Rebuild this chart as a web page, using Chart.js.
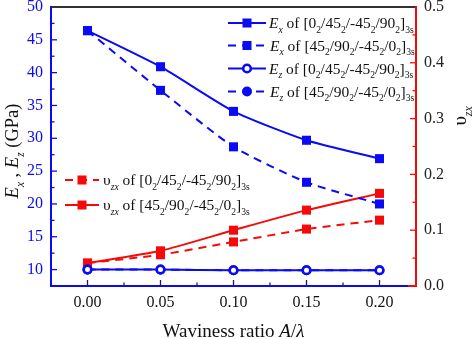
<!DOCTYPE html>
<html><head><meta charset="utf-8">
<script src="https://cdn.jsdelivr.net/npm/chart.js@4.4.1/dist/chart.umd.min.js"></script>
<style>html,body{margin:0;padding:0;background:#fff}#wrap{width:474px;height:339px;position:relative}</style>
</head><body><div id="wrap"><canvas id="c" width="474" height="339"></canvas></div>
<script>
// ---------- data ----------
const waviness = [0, 0.05, 0.10, 0.15, 0.20];
const exA = [46.4, 40.9, 34.1, 29.7, 26.9];   // Ex of [0/45/-45/90]
const exB = [46.4, 37.3, 28.7, 23.3, 20.0];   // Ex of [45/90/-45/0]
const ezA = [10.0, 10.0, 9.9, 9.9, 9.9];      // Ez of [0/45/-45/90]
const ezB = [10.0, 10.0, 9.9, 9.9, 9.9];      // Ez of [45/90/-45/0]
const nuA = [0.041, 0.056, 0.079, 0.102, 0.118]; // vzx of [0/45/-45/90]
const nuB = [0.041, 0.063, 0.100, 0.136, 0.166]; // vzx of [45/90/-45/0]

const xTickValues = [0, 0.05, 0.10, 0.15, 0.20];
const xTickLabels = ['0.00', '0.05', '0.10', '0.15', '0.20'];
const xMinorValues = [0.025, 0.075, 0.125, 0.175];
const leftTickValues = [10, 15, 20, 25, 30, 35, 40, 45, 50];
const leftTickLabels = ['10', '15', '20', '25', '30', '35', '40', '45', '50'];
const leftMinorValues = [12.5, 17.5, 22.5, 27.5, 32.5, 37.5, 42.5, 47.5];
const rightTickValues = [0, 0.1, 0.2, 0.3, 0.4, 0.5];
const rightTickLabels = ['0.0', '0.1', '0.2', '0.3', '0.4', '0.5'];
const rightMinorValues = [0.05, 0.15, 0.25, 0.35, 0.45];

const labelExA = '<i>E</i><sub><i>x</i></sub> of [0<sub>2</sub>/45<sub>2</sub>/-45<sub>2</sub>/90<sub>2</sub>]<sub>3s</sub>';
const labelExB = '<i>E</i><sub><i>x</i></sub> of [45<sub>2</sub>/90<sub>2</sub>/-45<sub>2</sub>/0<sub>2</sub>]<sub>3s</sub>';
const labelEzA = '<i>E</i><sub><i>z</i></sub> of [0<sub>2</sub>/45<sub>2</sub>/-45<sub>2</sub>/90<sub>2</sub>]<sub>3s</sub>';
const labelEzB = '<i>E</i><sub><i>z</i></sub> of [45<sub>2</sub>/90<sub>2</sub>/-45<sub>2</sub>/0<sub>2</sub>]<sub>3s</sub>';
const labelNuA = 'υ<sub><i>zx</i></sub> of [0<sub>2</sub>/45<sub>2</sub>/-45<sub>2</sub>/90<sub>2</sub>]<sub>3s</sub>';
const labelNuB = 'υ<sub><i>zx</i></sub> of [45<sub>2</sub>/90<sub>2</sub>/-45<sub>2</sub>/0<sub>2</sub>]<sub>3s</sub>';
const xTitle = 'Waviness ratio <i>A</i>/<i>λ</i>';
const leftTitle = '<i>E</i><sub><i>x</i></sub> , <i>E</i><sub><i>z</i></sub> (GPa)';
const rightTitle = 'υ<sub><i>zx</i></sub>';

// ---------- styling ----------
const FONT = "'Liberation Serif', 'Times New Roman', serif";
const BLUE = '#0a0af5';
const RED = '#f50a0a';
const DASH = [8, 6];

function parseRich(s) {
  const re = /<(\/?)(i|sub)>|[^<]+/g;
  let m, it = false, sub = false; const out = [];
  while ((m = re.exec(s))) {
    if (m[2]) { const on = m[1] !== '/'; if (m[2] === 'i') it = on; else sub = on; }
    else out.push({ t: m[0], it, sub });
  }
  return out;
}
function drawRich(ctx, s, x, y, size, color, align) {
  const segs = parseRich(s);
  const fontOf = g => (g.it ? 'italic ' : '') + (g.sub ? size * 0.62 : size) + 'px ' + FONT;
  let w = 0;
  segs.forEach(g => { ctx.font = fontOf(g); g.w = ctx.measureText(g.t).width; w += g.w; });
  let cx = align === 'center' ? x - w / 2 : (align === 'right' ? x - w : x);
  ctx.fillStyle = color; ctx.textBaseline = 'alphabetic'; ctx.textAlign = 'left';
  segs.forEach(g => { ctx.font = fontOf(g); ctx.fillText(g.t, cx, y + (g.sub ? size * 0.3 : 0)); cx += g.w; });
  return w;
}

function marker(ctx, type, x, y, color) {
  ctx.save();
  if (type === 'rect') { ctx.fillStyle = color; ctx.fillRect(x - 4.5, y - 4.5, 9, 9); }
  else if (type === 'ring') {
    ctx.beginPath(); ctx.arc(x, y, 3.8, 0, Math.PI * 2);
    ctx.fillStyle = '#fff'; ctx.fill(); ctx.lineWidth = 2.6; ctx.strokeStyle = color; ctx.stroke();
  } else { ctx.beginPath(); ctx.arc(x, y, 5, 0, Math.PI * 2); ctx.fillStyle = color; ctx.fill(); }
  ctx.restore();
}

const legendItems = [
  { label: labelExA, color: BLUE, dash: [], mk: 'rect', x0: 228, x1: 266, tx: 269, y: 23 },
  { label: labelExB, color: BLUE, dash: DASH, mk: 'rect', x0: 228, x1: 266, tx: 270, y: 45.5 },
  { label: labelEzA, color: BLUE, dash: [], mk: 'ring', x0: 228, x1: 266, tx: 269, y: 68.5 },
  { label: labelEzB, color: BLUE, dash: DASH, mk: 'dot', x0: 228, x1: 266, tx: 270, y: 91.5 },
  { label: labelNuA, color: RED, dash: DASH, mk: 'rect', x0: 65, x1: 99, tx: 103, y: 180 },
  { label: labelNuB, color: RED, dash: [], mk: 'rect', x0: 65, x1: 99, tx: 103, y: 205 }
];

function hline(ctx, x0, y0, x1, y1, c, w) {
  ctx.beginPath(); ctx.moveTo(x0, y0); ctx.lineTo(x1, y1); ctx.strokeStyle = c; ctx.lineWidth = w; ctx.stroke();
}

const framePlugin = {
  id: 'frame',
  beforeDatasetsDraw(chart) {
    const { ctx, chartArea: a, scales } = chart;
    ctx.save();
    ctx.setLineDash([]);
    // ticks
    xTickValues.forEach(v => { const p = scales.x.getPixelForValue(v); hline(ctx, p, a.bottom, p, a.bottom - 6, '#222', 1.3); });
    xMinorValues.forEach(v => { const p = scales.x.getPixelForValue(v); hline(ctx, p, a.bottom, p, a.bottom - 3.5, '#222', 1.3); });
    leftTickValues.forEach(v => { const p = scales.y.getPixelForValue(v); hline(ctx, a.left, p, a.left + 6, p, BLUE, 1.3); });
    leftMinorValues.forEach(v => { const p = scales.y.getPixelForValue(v); hline(ctx, a.left, p, a.left + 3.5, p, BLUE, 1.3); });
    rightTickValues.forEach(v => { const p = scales.y1.getPixelForValue(v); hline(ctx, a.right, p, a.right - 6, p, RED, 1.3); });
    rightMinorValues.forEach(v => { const p = scales.y1.getPixelForValue(v); hline(ctx, a.right, p, a.right - 3.5, p, RED, 1.3); });
    // frame
    hline(ctx, a.left, a.top, a.right, a.top, '#333', 2);
    hline(ctx, a.left - 1, a.bottom, a.right - 8, a.bottom, BLUE, 2);
    hline(ctx, a.right - 8, a.bottom, a.right + 1, a.bottom, RED, 2);
    hline(ctx, a.left, a.top - 1, a.left, a.bottom + 1, BLUE, 2);
    hline(ctx, a.right, a.top - 1, a.right, a.bottom + 1, RED, 2);
    ctx.restore();
  },
  afterDraw(chart) {
    const { ctx, chartArea: a } = chart;
    ctx.save();
    // legends
    legendItems.forEach(it => {
      ctx.setLineDash(it.dash);
      hline(ctx, it.x0, it.y, it.x1, it.y, it.color, 2);
      ctx.setLineDash([]);
      marker(ctx, it.mk, (it.x0 + it.x1) / 2, it.y, it.color);
      drawRich(ctx, it.label, it.tx, it.y + 5, 15.5, '#111', 'left');
    });
    // axis titles
    drawRich(ctx, xTitle, (a.left + a.right) / 2, 337, 19, '#111', 'center');
    ctx.save(); ctx.translate(18, 151); ctx.rotate(-Math.PI / 2);
    drawRich(ctx, leftTitle, 0, 0, 18.5, '#111', 'center'); ctx.restore();
    ctx.save(); ctx.translate(466, 116); ctx.rotate(-Math.PI / 2);
    drawRich(ctx, rightTitle, 0, 0, 19, '#111', 'center'); ctx.restore();
    ctx.restore();
  }
};

function fixTicks(vals) { return s => { s.ticks = vals.map(v => ({ value: v })); }; }
function fitSize(prop, val) { return s => { s[prop] = val; s.paddingTop = 0; s.paddingBottom = 0; s.paddingLeft = 0; s.paddingRight = 0; }; }

const pts = (ys) => waviness.map((x, i) => ({ x, y: ys[i] }));

new Chart(document.getElementById('c'), {
  type: 'line',
  data: {
    datasets: [
      { data: pts(ezA), yAxisID: 'y', borderColor: BLUE, backgroundColor: '#fff', borderWidth: 2, pointStyle: 'circle', pointRadius: 3.8, pointBorderWidth: 2.6, pointBorderColor: BLUE, pointBackgroundColor: '#fff', tension: 0.2 },
      { data: pts(ezB), yAxisID: 'y', borderColor: BLUE, borderDash: DASH, borderWidth: 2, pointStyle: 'circle', pointRadius: 5, pointBorderWidth: 0, pointBackgroundColor: BLUE, tension: 0.2 },
      { data: pts(exA), yAxisID: 'y', borderColor: BLUE, borderWidth: 2, pointStyle: 'rect', pointRadius: 6.4, pointBorderWidth: 0, pointBackgroundColor: BLUE, tension: 0.2 },
      { data: pts(exB), yAxisID: 'y', borderColor: BLUE, borderDash: DASH, borderWidth: 2, pointStyle: 'rect', pointRadius: 6.4, pointBorderWidth: 0, pointBackgroundColor: BLUE, tension: 0.2 },
      { data: pts(nuA), yAxisID: 'y1', borderColor: RED, borderDash: DASH, borderWidth: 2, pointStyle: 'rect', pointRadius: 6.4, pointBorderWidth: 0, pointBackgroundColor: RED, tension: 0.2 },
      { data: pts(nuB), yAxisID: 'y1', borderColor: RED, borderWidth: 2, pointStyle: 'rect', pointRadius: 6.4, pointBorderWidth: 0, pointBackgroundColor: RED, tension: 0.2 }
    ]
  },
  options: {
    responsive: false,
    animation: false,
    layout: { padding: { top: 7, left: 0, right: 0, bottom: 0 } },
    plugins: { legend: { display: false }, tooltip: { enabled: false } },
    scales: {
      x: {
        type: 'linear', min: -0.025, max: 0.225,
        afterBuildTicks: fixTicks(xTickValues), afterFit: fitSize('height', 53),
        grid: { display: true, drawOnChartArea: false, drawTicks: false }, border: { display: false },
        ticks: { padding: 7, color: '#111', font: { family: FONT, size: 16 }, maxRotation: 0, autoSkip: false, callback: (v, i) => xTickLabels[i] }
      },
      y: {
        position: 'left', min: 7.5, max: 50,
        afterBuildTicks: fixTicks(leftTickValues), afterFit: fitSize('width', 51),
        grid: { display: true, drawOnChartArea: false, drawTicks: false }, border: { display: false },
        ticks: { padding: 8, color: BLUE, font: { family: FONT, size: 16 }, autoSkip: false, callback: (v, i) => leftTickLabels[i] }
      },
      y1: {
        position: 'right', min: 0, max: 0.5,
        afterBuildTicks: fixTicks(rightTickValues), afterFit: fitSize('width', 58),
        grid: { display: true, drawOnChartArea: false, drawTicks: false }, border: { display: false },
        ticks: { padding: 8, color: '#222', font: { family: FONT, size: 16 }, autoSkip: false, callback: (v, i) => rightTickLabels[i] }
      }
    }
  },
  plugins: [framePlugin]
});
</script></body></html>
